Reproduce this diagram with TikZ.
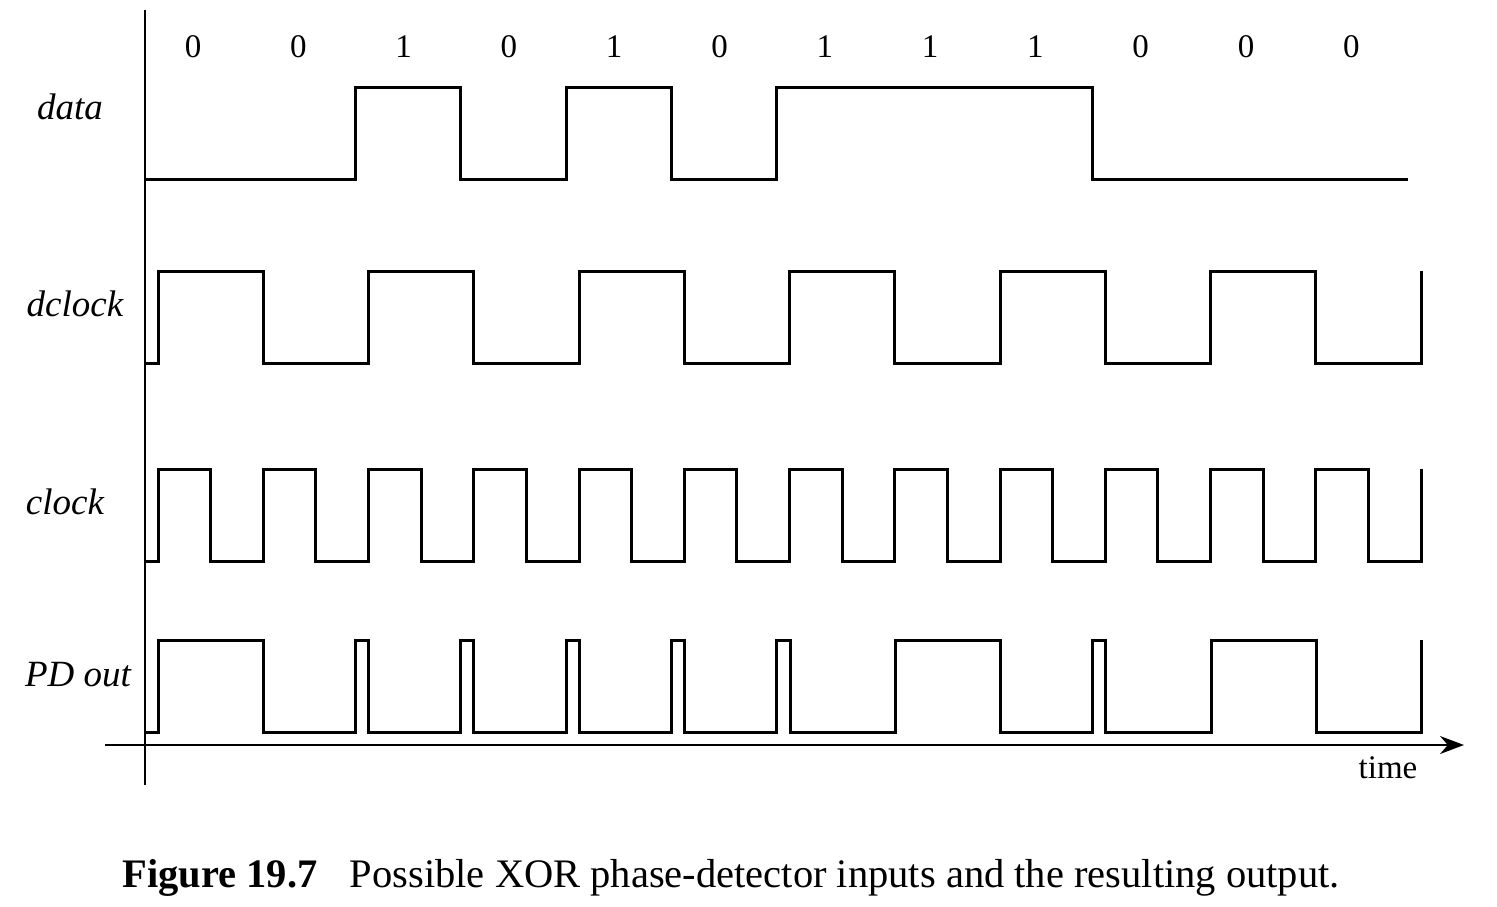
\documentclass[tikz,border=0pt]{standalone}
\usepackage{fontspec}
\setmainfont{Liberation Serif}
\usetikzlibrary{arrows.meta}
\begin{document}
\begin{tikzpicture}[x=1pt,y=-1pt,
  wave/.style={line width=3pt,line join=miter},
  lbl/.style={font=\fontsize{37}{40}\selectfont\itshape},
  bit/.style={font=\fontsize{33}{36}\selectfont}]
\useasboundingbox (0,0) rectangle (1497,906);
% axes
\coordinate (vt) at (145,10); \coordinate (vb) at (145,785);
\draw[line width=1.5pt] (vt) -- (vb);
\coordinate (hl) at (105,745); \coordinate (hr) at (1464,745);
\draw[line width=1.5pt,-{Stealth[length=24pt,width=18pt]}] (hl) -- (hr);
\node[bit,anchor=base] (time) at (1388,778) {time};
% labels
\node[lbl] (ldata) at (70,107) {data};
\node[lbl] (ldclk) at (75,304) {dclock};
\node[lbl] (lclk) at (65,502) {clock};
\node[lbl] (lpd) at (78,675) {PD out};
% bit values
\foreach \b [count=\i from 0] in {0,0,1,0,1,0,1,1,1,0,0,0}
  \node[bit] (b\i) at ({193+105.3*\i},47) {\b};
% data
\draw[wave] (145,179) -- (355,179) -- (355,87) -- (460,87) -- (460,179) -- (566,179) -- (566,87) -- (671,87) -- (671,179) -- (776,179) -- (776,87) -- (1092,87) -- (1092,179) -- (1408,179);
% dclock
\draw[wave] (145,363) -- (158,363)
  \foreach \k in {0,...,5} { -- ({158+210.5*\k},271) -- ({263.25+210.5*\k},271) -- ({263.25+210.5*\k},363) -- ({368.5+210.5*\k},363) }
  -- (1421,271);
% clock
\draw[wave] (145,561) -- (158,561)
  \foreach \k in {0,...,11} { -- ({158+105.25*\k},469) -- ({210.6+105.25*\k},469) -- ({210.6+105.25*\k},561) -- ({263.25+105.25*\k},561) }
  -- (1421,469);
% PD out
\draw[wave] (145,732) -- (158,732) -- (158,640) -- (263,640) -- (263,732) -- (355,732) -- (355,640) -- (368,640) -- (368,732) -- (460,732) -- (460,640) -- (473,640) -- (473,732) -- (566,732) -- (566,640) -- (579,640) -- (579,732) -- (671,732) -- (671,640) -- (684,640) -- (684,732) -- (776,732) -- (776,640) -- (790,640) -- (790,732) -- (895,732) -- (895,640) -- (1000,640) -- (1000,732) -- (1092,732) -- (1092,640) -- (1105,640) -- (1105,732) -- (1211,732) -- (1211,640) -- (1316,640) -- (1316,732) -- (1421,732) -- (1421,640);
% caption
\node[anchor=base west,font=\fontsize{40.5}{44}\selectfont] (cap) at (119,887) {\textbf{Figure 19.7}\hspace{0.8em}Possible XOR phase-detector inputs and the resulting output.};
\end{tikzpicture}
\end{document}
